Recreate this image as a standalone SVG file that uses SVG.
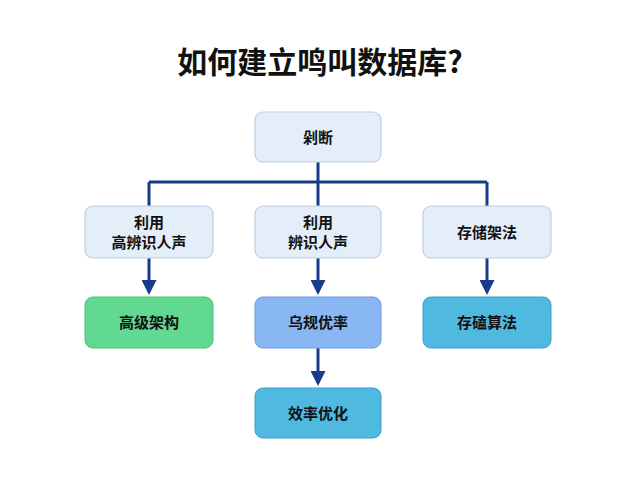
<svg xmlns="http://www.w3.org/2000/svg" width="640" height="480" viewBox="0 0 640 480">
<style>
text{font-family:"Noto Sans CJK SC","Liberation Sans",sans-serif;font-weight:bold;text-anchor:middle;fill:#111}
.l{fill:#e4eef8;stroke:#b9d0e6;stroke-width:1.2}
.c{stroke:#1a3a8c;stroke-width:3;fill:none}
.t{font-size:15px}
</style>
<defs><marker id="a" markerWidth="5" markerHeight="5" refX="4" refY="2.5" orient="auto"><path d="M0,0L5,2.5L0,5z" fill="#1a3a8c"/></marker></defs>
<rect width="640" height="480" fill="#fff"/>
<text x="320" y="73" style="font-size:30px">如何建立鸣叫数据库?</text>
<g id="connectors">
<path class="c" d="M318,162V182M149,182H487M149,182V206M318,182V206M487,182V206"/>
<path class="c" d="M149,258V292" marker-end="url(#a)"/>
<path class="c" d="M318,258V292" marker-end="url(#a)"/>
<path class="c" d="M487,258V292" marker-end="url(#a)"/>
<path class="c" d="M318,348V383" marker-end="url(#a)"/>
</g>
<g id="n1"><rect class="l" x="255" y="112" width="126" height="50" rx="8"/><text class="t" x="318" y="143">剁断</text></g>
<g id="n2"><rect class="l" x="85" y="206" width="128" height="52" rx="8"/><text class="t" x="149" y="228">利用</text><text class="t" x="149" y="248">高辨识人声</text></g>
<g id="n3"><rect class="l" x="255" y="206" width="126" height="52" rx="8"/><text class="t" x="318" y="228">利用</text><text class="t" x="318" y="248">辨识人声</text></g>
<g id="n4"><rect class="l" x="423" y="206" width="128" height="52" rx="8"/><text class="t" x="487" y="238">存储架法</text></g>
<g id="n5"><rect x="85" y="297" width="128" height="51" rx="8" fill="#62d991" stroke="#4bbd77"/><text class="t" x="149" y="328">高级架构</text></g>
<g id="n6"><rect x="255" y="297" width="126" height="51" rx="8" fill="#88b7f3" stroke="#6a9be0"/><text class="t" x="318" y="328">乌规优率</text></g>
<g id="n7"><rect x="423" y="297" width="128" height="51" rx="8" fill="#4fb9e0" stroke="#3aa0cc"/><text class="t" x="487" y="328">存磕算法</text></g>
<g id="n8"><rect x="255" y="388" width="126" height="50" rx="8" fill="#4fb9e0" stroke="#3aa0cc"/><text class="t" x="318" y="419">效率优化</text></g>
</svg>
